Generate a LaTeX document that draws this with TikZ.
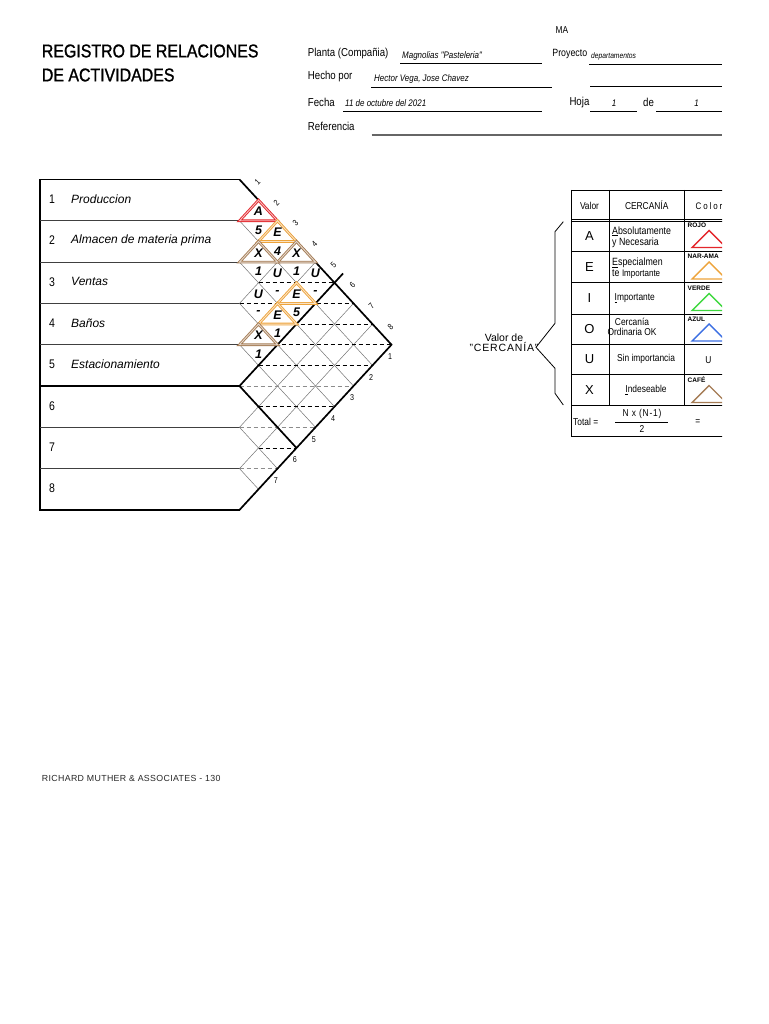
\documentclass[tikz,border=0pt]{standalone}
\usepackage{fontspec}
\setmainfont{Liberation Sans}
\newfontfamily\narrow[FakeStretch=0.84]{Liberation Sans}
\newfontfamily\titlefont[FakeStretch=0.86, FakeBold=1.2]{Liberation Sans}
\usetikzlibrary{calc}

\def\fsz#1{\fontsize{#1}{#1}\selectfont}
\definecolor{rojo}{HTML}{E3262B}
\definecolor{naranja}{HTML}{EDA33B}
\definecolor{verde}{HTML}{3FD83F}
\definecolor{azul}{HTML}{3C6FE2}
\definecolor{cafe}{HTML}{A57C55}

\begin{document}
\begin{tikzpicture}[
    x=1pt, y=-1pt,
    txt/.style={anchor=west, inner sep=0pt, font=\narrow\fsz{11.5}},
    entry/.style={anchor=west, inner sep=0pt, font=\narrow\itshape\fsz{9.5}},
    uline/.style={line width=0.8pt},
    rownum/.style={anchor=west, inner sep=0pt, font=\narrow\fsz{12.5}},
    rowname/.style={anchor=west, inner sep=0pt, font=\itshape\fsz{12}},
    lattice/.style={draw=black!55, line width=0.5pt},
    midline/.style={line width=0.8pt, dash pattern=on 4.5pt off 2.5pt},
    heavy/.style={line width=1.7pt},
    reltri/.style={line width=0.9pt, double distance=0.9pt},
    relval/.style={inner sep=0pt, font=\bfseries\itshape\fsz{12.5}},
    edgenum/.style={inner sep=0pt, font=\narrow\fsz{8.5}},
    cell/.style={inner sep=0pt, font=\narrow\fsz{10}},
    bigval/.style={inner sep=0pt, font=\fsz{13}},
    colname/.style={anchor=west, inner sep=0pt, font=\bfseries\fsz{6.5}},
    coltri/.style={line width=1.4pt}
]
\useasboundingbox (0,0) rectangle (768,1024);

% Header
\node[anchor=west, inner sep=0pt, font=\titlefont\fsz{18.5}] (title1) at (41.7,51) {REGISTRO DE RELACIONES};
\node[anchor=west, inner sep=0pt, font=\titlefont\fsz{18.5}] (title2) at (41.7,75) {DE ACTIVIDADES};
\node[inner sep=0pt, font=\narrow\fsz{10}] (ma) at (562,30) {MA};

\node[txt] (planta) at (307.7,54) {Planta (Compañia)};
\node[entry] (plantaval) at (402,56) {Magnolias "Pasteleria"};
\node[txt, font=\narrow\fsz{10.5}] (proyecto) at (552.2,54) {Proyecto};
\node[entry, font=\narrow\itshape\fsz{8}] (proyval) at (591,56) {departamentos};
\node[txt] (hecho) at (307.7,77) {Hecho por};
\node[entry] (hechoval) at (374,79) {Hector Vega, Jose Chavez};
\node[txt] (fecha) at (307.7,102) {Fecha};
\node[entry] (fechaval) at (345,102.7) {11 de octubre del 2021};
\node[txt] (hoja) at (569.3,102.5) {Hoja};
\node[entry, anchor=center] (hojaval) at (614,103.3) {1};
\node[txt] (de) at (643,102.5) {de};
\node[entry, anchor=center] (deval) at (696.7,103.3) {1};
\node[txt] (ref) at (307.7,126) {Referencia};

\draw[uline] (400,63.3) -- (541.7,63.3);
\draw[uline] (589.3,64) -- (721.7,64);
\draw[uline] (371,87.3) -- (551.7,87.3);
\draw[uline] (590,86.7) -- (721.7,86.7);
\draw[uline] (343.3,111) -- (542,111);
\draw[uline] (590,111) -- (636.7,111);
\draw[uline] (656,111) -- (721.7,111);
\draw[line width=1.8pt, black!60] (371.7,135) -- (721.7,135);

% Activity list
\draw[line width=1.2pt] (239.5,179.5) -- (40,179.5) -- (40,509.9) -- (239.5,509.9);
\foreach \k in {1,2,3,4,6,7}
    \draw[line width=0.8pt, black!75] (40,179.5+41.3*\k) -- (239.5,179.5+41.3*\k);
\draw[line width=1.5pt] (40,386) -- (239.5,386);

\foreach \k/\name in {1/Produccion, 2/Almacen de materia prima, 3/Ventas, 4/Baños, 5/Estacionamiento, 6/, 7/, 8/} {
    \node[rownum] (num\k) at (49,179.5+41.3*\k-21.6) {\k};
    \node[rowname] (act\k) at (71,179.5+41.3*\k-21.6) {\name};
}

% Relationship diamonds
\begin{scope}[shift={(239.5,179.5)}, x=19pt, y=-20.65pt]
    \foreach \k in {1,...,7} {
        \pgfmathtruncatemacro\e{8-\k}
        \draw[lattice] (\e,\k+8) -- (0,2*\k) -- (\k,\k);
    }
    \foreach \b/\l/\r/\col in {2/0/2/black, 3/1/3/black, 4/0/4/black, 5/1/5/black,
                              6/0/6/black, 7/1/7/black, 8/0/8/black, 9/1/7/black,
                              10/0/6/black!45, 11/1/5/black, 12/0/4/black!45,
                              13/1/3/black, 14/0/2/black!45}
        \draw[midline, draw=\col] (\l,\b) -- (\r,\b);

    \draw[heavy] (0,0) -- (8,8) -- (0,16);
    \draw[heavy] (5.45,4.55) -- (0,10) -- (3,13);

    \foreach \a/\b/\col in {1/2/rojo, 2/3/naranja, 3/4/cafe, 1/4/cafe,
                            3/6/naranja, 2/7/naranja, 1/8/cafe}
        \draw[reltri, draw=\col, double=\col!30] (\a-1,\b) -- (\a,\b-1) -- (\a+1,\b) -- cycle;

    \foreach \a/\b/\rel/\why in {1/2/A/5, 2/3/E/4, 3/4/X/1, 4/5/U/-, 1/4/X/1,
                                 2/5/U/-, 3/6/E/5, 1/6/U/-, 2/7/E/1, 1/8/X/1} {
        \node[relval] (rel\a\b) at (\a,\b-0.45) {\rel};
        \node[relval] (why\a\b) at (\a,\b+0.45) {\why};
    }

    \foreach \k in {1,...,8}
        \node[edgenum, rotate=45] (top\k) at (\k-0.05,\k-0.87) {\k};
    \foreach \k in {1,...,7}
        \node[edgenum] (bot\k) at (8.92-\k,7.58+\k) {\k};
\end{scope}

% Closeness table
\begin{scope}
    \clip (560,185) rectangle (722,440);
    \draw[uline] (571,190) -- (730,190);
    \draw[uline] (571,219.3) -- (730,219.3);
    \draw[uline] (571,221.7) -- (730,221.7);
    \foreach \y in {251,282,314,344.3,374.3,405.7}
        \draw[uline] (571,\y) -- (730,\y);
    \draw[uline] (571,436.7) -- (730,436.7);
    \draw[uline] (571,190) -- (571,436.7);
    \draw[uline] (609.3,190) -- (609.3,405.7);
    \draw[uline] (684.3,190) -- (684.3,405.7);

    \node[cell] (hvalor) at (589.5,205.5) {Valor};
    \node[cell] (hcerca) at (646.7,205.5) {CERCANÍA};
    \node[cell, anchor=west, font=\narrow\fsz{9.5}\addfontfeature{LetterSpace=20}] (hcolor) at (695.5,206) {Color};

    \foreach \y/\v in {236.5/A, 266.8/E, 298/I, 329.2/O, 359.3/U, 390/X}
        \node[bigval] (val\v) at (589.5,\y) {\v};

    \node[cell, anchor=west, align=left, font=\narrow\fsz{10.5}] (cA) at (612,237) {\underline{A}bsolutamente\\[0.5pt]y Necesaria};
    \node[cell, anchor=west, align=left, font=\narrow\fsz{10.5}] (cE) at (612,268) {\underline{E}specialmen\\[0.5pt]te {\fsz{9.5}Importante}};
    \node[cell, anchor=west, font=\narrow\fsz{10}] (cI) at (614.5,298) {\underline{I}mportante};
    \node[cell, align=center, font=\narrow\fsz{10}] (cO) at (632,327) {Cercanía\\[0pt]Ordinaria OK};
    \node[cell] (cU) at (646,359.3) {Sin importancia};
    \node[cell] (cX) at (646,390) {\underline{I}ndeseable};

    \foreach \y/\nm/\col in {225/ROJO/rojo, 256.5/NAR-AMA/naranja, 288/VERDE/verde,
                             319.5/AZUL/azul, 380/CAFÉ/cafe}
        \node[colname] (n\col) at (687.5,\y) {\nm};
    \foreach \y/\col in {247.5/rojo, 279/naranja, 310.5/verde, 341/azul, 402.5/cafe}
        \draw[coltri, draw=\col] (692,\y) -- (709,\y-17) -- (726,\y) -- cycle;
    \node[cell] (uU) at (708.3,360) {U};

    \node[cell, anchor=west] (total) at (573,421.5) {Total =};
    \node[cell, font=\narrow\fsz{10}\addfontfeature{LetterSpace=8}] (numer) at (642,413.8) {N x (N-1)};
    \node[cell] (denom) at (642,429.5) {2};
    \draw[uline] (615,422.3) -- (668.3,422.3);
    \node[cell] (eq) at (697.7,421.7) {=};
\end{scope}

% Brace
\draw[line width=0.8pt] (563.3,221.7) -- (555,231.7) -- (555,323.3) -- (536,347.3)
    -- (555,368.3) -- (555,393.3) -- (563.3,405);
\node[inner sep=0pt, align=center, font=\fsz{10.5}] (brace) at (504,342.5) {Valor de\\[0pt]{\addfontfeature{LetterSpace=8}"CERCANÍA"}};

% Footer
\node[anchor=west, inner sep=0pt, font=\fsz{8.8}\addfontfeature{LetterSpace=4}, black!85] (footer) at (41.7,778.3) {RICHARD MUTHER \& ASSOCIATES - 130};
\end{tikzpicture}
\end{document}
